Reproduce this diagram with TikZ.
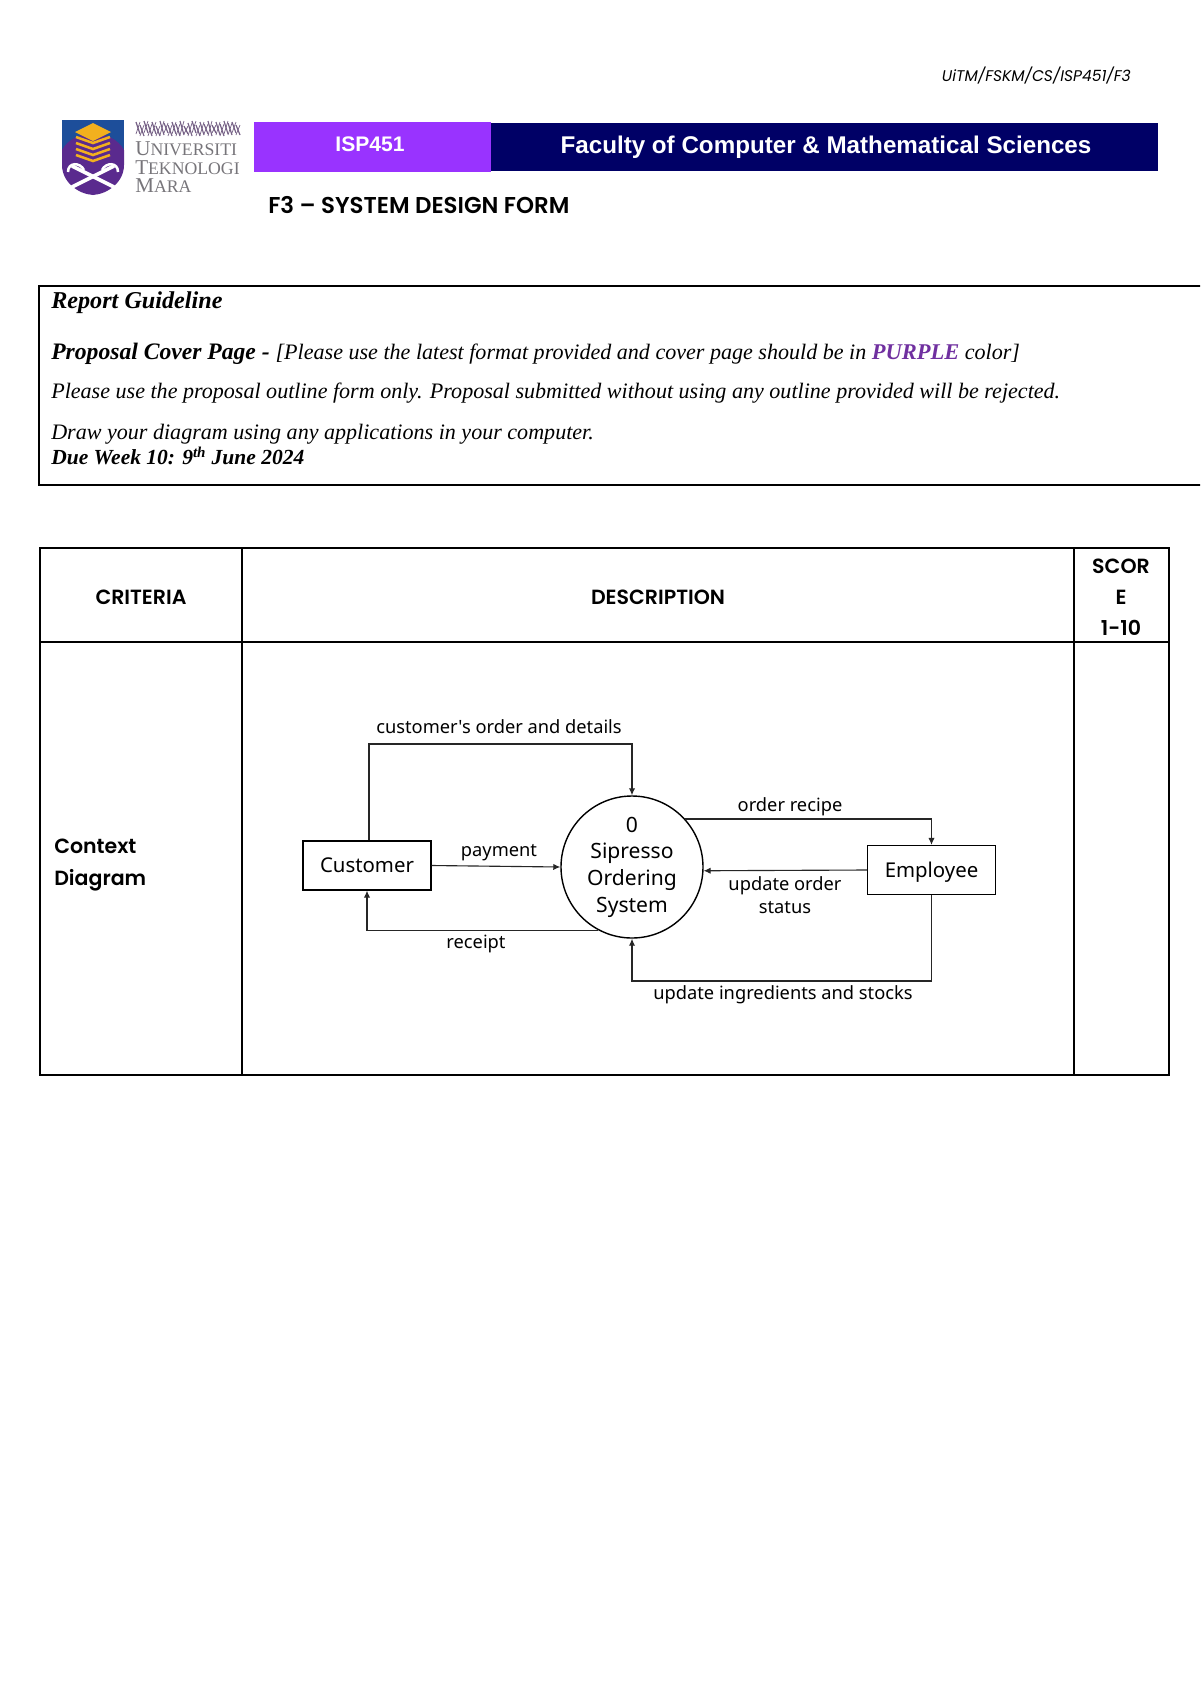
\documentclass[tikz,border=0pt]{standalone}
\usepackage{fontspec}
\setmainfont{Liberation Serif}
\newfontfamily\gothicfont[BoldFont={Poppins SemiBold}]{Poppins}
\newfontfamily\arialfont{Liberation Sans}
\newfontfamily\flowfont{Noto Sans}
\usetikzlibrary{calc,arrows.meta}
\definecolor{BarPurple}{HTML}{9933FF}
\definecolor{BarNavy}{HTML}{000066}
\definecolor{NotePurple}{HTML}{7030A0}
\definecolor{ShieldBlue}{HTML}{1D4E9A}
\definecolor{ShieldPurple}{HTML}{5A2A8E}
\definecolor{ShieldGold}{HTML}{F2B01E}
\definecolor{LogoGrey}{HTML}{77757A}
\tikzset{
  gridline/.style={draw=black,line width=1.8pt},
  noteline/.style={anchor=west,inner sep=0pt,font=\fontsize{15.7}{17}\selectfont\itshape},
  headcell/.style={inner sep=0pt,font=\gothicfont\fontsize{14.6}{16}\selectfont\bfseries},
  entity/.style={draw=black,line width=1pt,minimum width=31.9mm,minimum height=12.2mm,inner sep=0pt,text height=10pt,text depth=0pt,font=\flowfont\fontsize{14.5}{16}\selectfont},
  process/.style={draw=black,line width=1pt,circle,minimum size=35.5mm,inner sep=0pt,align=center,font=\flowfont\fontsize{15}{19}\selectfont},
  flow/.style={draw=black!85,line width=0.8pt,-{Latex[length=5pt,width=4.5pt]}},
  flowlabel/.style={inner sep=0pt,align=center,font=\flowfont\fontsize{13}{16}\selectfont},
  logotext/.style={anchor=west,inner sep=0pt,text=LogoGrey,font=\fontsize{12.6}{13}\selectfont}
}
\newcommand{\logocap}[1]{{\fontsize{15}{15}\selectfont #1}}

\begin{document}
\begin{tikzpicture}[x=0.25mm,y=-0.25mm]
    \clip (0,0) rectangle (1200,1694);
    \fill[white] (0,0) rectangle (1200,1694);

    % top reference
    \node[anchor=east,inner sep=0pt,font=\gothicfont\fontsize{11}{13}\selectfont\itshape] (formref) at (1131,76) {UiTM/FSKM/CS/ISP451/F3};

    % shield
    \fill[ShieldBlue] (62,120) -- (124,120) -- (124,155) -- (62,155) -- cycle;
    \fill[ShieldPurple] (62,150) .. controls (74,128) and (112,128) .. (124,150) -- (124,165)
      .. controls (124,182) and (108,194) .. (93,195) .. controls (78,194) and (62,182) .. (62,165) -- cycle;
    \fill[ShieldGold] (93,123) -- (111,132) -- (93,141) -- (75,132) -- cycle;
    \foreach \t in {137,143,149,155}{
      \draw[ShieldGold,line width=1.8pt] (76,\t) -- (93,\t+6) -- (110,\t);
    }
    \draw[white,line width=2.6pt] (72,166) -- (114,187);
    \draw[white,line width=2.6pt] (114,166) -- (72,187);
    \draw[white,line width=1.8pt] (68,172) .. controls (68,162) and (80,162) .. (84,170);
    \draw[white,line width=1.8pt] (118,172) .. controls (118,162) and (106,162) .. (102,170);
    % logo words
    \foreach \a/\b/\c in {136/122/134,140/125/136,144/121/133,148/124/136,152/122/134,156/126/136,160/121/135,164/123/133,168/125/136,172/122/134,176/124/136,180/121/135,184/126/134,188/123/136,192/121/133,196/125/136,200/122/135,204/124/134,208/121/136,212/125/133,216/122/135,220/124/136,224/121/134,228/123/135,232/122/133,236/125/135}{
      \draw[LogoGrey!70!NotePurple,line width=0.8pt] (\a,\b) -- (\a+4,\c);
      \draw[LogoGrey!70!NotePurple,line width=0.5pt] (\a+4,\b) -- (\a,\c);
    }
    \node[logotext] (logoa) at (135,149) {\logocap{U}NIVERSITI};
    \node[logotext] (logob) at (135,168) {\logocap{T}EKNOLOGI};
    \node[logotext] (logoc) at (135,186) {\logocap{M}ARA};

    % title bars
    \fill[BarPurple] (254,122) rectangle (491,172);
    \fill[BarNavy] (491,123) rectangle (1158,171);
    \node[inner sep=0pt,text=white,font=\arialfont\fontsize{15}{17}\selectfont\bfseries] (course) at (370,144) {ISP451};
    \node[inner sep=0pt,text=white,font=\arialfont\fontsize{17.2}{19}\selectfont\bfseries] (faculty) at (826,147) {Faculty of Computer \& Mathematical Sciences};
    \node[anchor=west,inner sep=0pt,font=\gothicfont\fontsize{16.3}{18}\selectfont\bfseries] (formtitle) at (268,205) {F3 – SYSTEM DESIGN FORM};

    % guideline box
    \draw[gridline] (39,286) rectangle (1210,485);
    \node[noteline,font=\fontsize{17.2}{19}\selectfont\bfseries\itshape] (guide) at (51,303) {Report Guideline};
    \node[noteline] (cover) at (51,354) {{\fontsize{16.8}{18}\selectfont\bfseries Proposal Cover Page - }[Please use the latest format provided and cover page should be in {\fontsize{16}{18}\selectfont\bfseries\color{NotePurple}PURPLE} color]};
    \node[noteline] (outline) at (51,393) {Please use the proposal outline form only. Proposal submitted without using any outline provided will be rejected.};
    \node[noteline] (anyapp) at (51,434) {Draw your diagram using any applications in your computer.};
    \node[noteline,font=\fontsize{15.3}{17}\selectfont\bfseries\itshape] (due) at (51,456) {Due Week 10: 9\textsuperscript{th} June 2024};

    % table
    \draw[gridline] (40,548) rectangle (1169,1075);
    \draw[gridline] (40,642) -- (1169,642);
    \draw[gridline] (242,548) -- (242,1075);
    \draw[gridline] (1074,548) -- (1074,1075);
    \node[headcell] (criteria) at (141,597) {CRITERIA};
    \node[headcell] (descr) at (658,597) {DESCRIPTION};
    \node[headcell] (scorea) at (1121,566) {SCOR};
    \node[headcell] (scoreb) at (1121,597) {E};
    \node[headcell] (scorec) at (1121,628) {1-10};
    \node[headcell,anchor=west] (contexta) at (54,846) {Context};
    \node[headcell,anchor=west] (contextb) at (54,880) {Diagram};

    % context diagram
    \node[entity] (customer) at (367,865.5) {Customer};
    \node[entity] (employee) at (931.5,870) {Employee};
    \node[process] (system) at (632,867) {0\\Sipresso\\Ordering\\System};
    \coordinate (topline) at (0,744);
    \coordinate (botline) at (0,981);

    \draw[flow] ([xshift=0.5mm]customer.north) -- ([xshift=0.5mm]customer.north |- topline) -| (system.north);
    \draw[flow] (customer.east) -- (system.west);
    \draw[flow] (system.242) -| (customer.south);
    \draw[flow] (system.42) -| (employee.north);
    \draw[flow] (employee.west) -- (system.-3);
    \draw[flow] (employee.south) -- (employee.south |- botline) -| (system.south);

    \node[flowlabel] (orderlbl) at (499,727) {customer's order and details};
    \node[flowlabel] (paylbl) at (499,853) {payment};
    \node[flowlabel] (receiptlbl) at (476,944) {receipt};
    \node[flowlabel] (recipelbl) at (790,807) {order recipe};
    \node[flowlabel] (statuslbl) at (785,895) {update order\\status};
    \node[flowlabel] (stocklbl) at (783,995) {update ingredients and stocks};
\end{tikzpicture}
\end{document}
